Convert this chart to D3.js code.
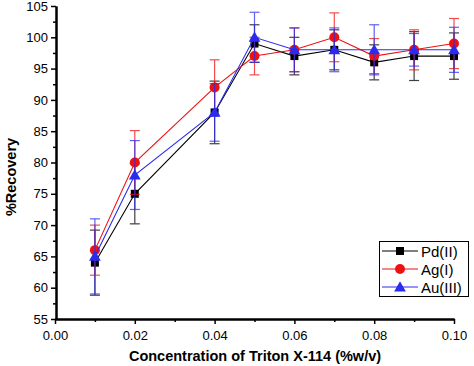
<!DOCTYPE html>
<html><head><meta charset="utf-8">
<script src="https://cdn.jsdelivr.net/npm/d3@7"></script>
<style>body{margin:0;background:#fff}svg{display:block}</style>
</head><body>
<svg id="c" width="474" height="366"></svg>
<script>
const concentrations = [0.01, 0.02, 0.04, 0.05, 0.06, 0.07, 0.08, 0.09, 0.10];
const pdValues = [64, 75, 88, 99, 97, 98, 96, 97, 97];
const pdErrors = [5.2, 4.8, 5.0, 3.0, 3.0, 3.2, 2.8, 3.9, 3.7];
const agValues = [66, 80, 92, 97, 98, 100, 97, 98, 99];
const agErrors = [4.0, 5.1, 4.4, 3.0, 3.5, 3.9, 2.8, 3.2, 4.0];
const auValues = [65, 78, 88, 100, 98, 98, 98, 98, 98];
const auErrors = [6.0, 5.5, 4.6, 4.0, 3.5, 3.5, 4.0, 2.6, 3.6];
const seriesNames = ["Pd(II)", "Ag(I)", "Au(III)"];
const xTicks = [0.00, 0.02, 0.04, 0.06, 0.08, 0.10];
const yTicks = [55, 60, 65, 70, 75, 80, 85, 90, 95, 100, 105];

const series = [
  {name: seriesNames[0], values: pdValues, errors: pdErrors, color: "#000000", shape: "square"},
  {name: seriesNames[1], values: agValues, errors: agErrors, color: "#ee1111", shape: "circle"},
  {name: seriesNames[2], values: auValues, errors: auErrors, color: "#2b2bf0", shape: "triangle"}
];

const svg = d3.select("#c");
const font = "Liberation Sans, Arial, sans-serif";
const x = d3.scaleLinear().domain([0, 0.10]).range([55, 454]);
const y = d3.scaleLinear().domain([55, 105]).range([319, 6]);

// axes
const xAxis = d3.axisBottom(x).tickValues(xTicks).tickFormat(d3.format(".2f")).tickSize(5).tickSizeOuter(0);
const xMinor = d3.axisBottom(x).tickValues(d3.range(0.01, 0.10, 0.02)).tickFormat("").tickSize(3).tickSizeOuter(0);
const yAxis = d3.axisLeft(y).tickValues(yTicks).tickFormat(d3.format("d")).tickSize(5).tickSizeOuter(0);
const yMinor = d3.axisLeft(y).tickValues(d3.range(57.5, 105, 5)).tickFormat("").tickSize(3).tickSizeOuter(0);

function styleAxis(g){
  g.selectAll(".domain").attr("stroke","#000").attr("stroke-width",2);
  g.selectAll(".tick line").attr("stroke","#000").attr("stroke-width",1.5);
  g.selectAll("text").attr("font-family",font).attr("font-size",13).attr("fill","#000");
}
svg.append("g").attr("transform","translate(0,319)").call(xMinor).call(styleAxis);
svg.append("g").attr("transform","translate(0,319)").call(xAxis).call(styleAxis)
  .selectAll("text").attr("dy","1.0em");
svg.append("g").attr("transform","translate(56,0)").call(yMinor).call(styleAxis);
svg.append("g").attr("transform","translate(56,0)").call(yAxis).call(styleAxis)
  .selectAll("text").attr("x",-8);

// titles
svg.append("text").attr("x",255).attr("y",361).attr("text-anchor","middle")
  .attr("font-family",font).attr("font-weight","bold").attr("font-size",14.5)
  .text("Concentration of Triton X-114 (%w/v)");
svg.append("text").attr("transform","translate(16,177) rotate(-90)").attr("text-anchor","middle")
  .attr("font-family",font).attr("font-weight","bold").attr("font-size",14.5)
  .text("%Recovery");

function drawMarker(g, shape, cx, cy, color){
  if (shape === "square") {
    g.append("rect").attr("x",cx-4).attr("y",cy-4).attr("width",8).attr("height",8).attr("fill",color);
  } else if (shape === "circle") {
    g.append("circle").attr("cx",cx).attr("cy",cy).attr("r",5).attr("fill",color);
  } else {
    g.append("path").attr("d",d3.symbol(d3.symbolTriangle, 60)()).attr("transform",`translate(${cx},${cy+1})`).attr("fill",color);
  }
}

const line = d3.line().x(d => x(d[0])).y(d => y(d[1]));
series.forEach(s => {
  const g = svg.append("g");
  const pts = concentrations.map((c,i) => [c, s.values[i], s.errors[i]]);
  // error bars
  pts.forEach(p => {
    const cx = x(p[0]);
    const eg = g.append("g").attr("stroke", s.color).attr("stroke-width",1.2).attr("opacity",0.75);
    eg.append("line").attr("x1",cx).attr("x2",cx).attr("y1",y(p[1]-p[2])).attr("y2",y(p[1]+p[2]));
    [p[1]-p[2], p[1]+p[2]].forEach(v => {
      eg.append("line").attr("x1",cx-5).attr("x2",cx+5).attr("y1",y(v)).attr("y2",y(v));
    });
  });
  g.append("path").datum(pts).attr("d", line).attr("fill","none").attr("stroke", s.color).attr("stroke-width",1.1);
  pts.forEach(p => drawMarker(g, s.shape, x(p[0]), y(p[1]), s.color));
});

// legend
const lg = svg.append("g");
lg.append("rect").attr("x",379.5).attr("y",241.5).attr("width",89).attr("height",55)
  .attr("fill","#fff").attr("stroke","#000").attr("stroke-width",1);
series.forEach((s,i) => {
  const ly = 251 + i*18;
  lg.append("line").attr("x1",382).attr("x2",418).attr("y1",ly).attr("y2",ly).attr("stroke",s.color).attr("stroke-width",1.1);
  drawMarker(lg, s.shape, 400, ly, s.color);
  lg.append("text").attr("x",421).attr("y",ly+5.5).attr("font-family",font).attr("font-size",15).text(s.name);
});
</script>
</body></html>
